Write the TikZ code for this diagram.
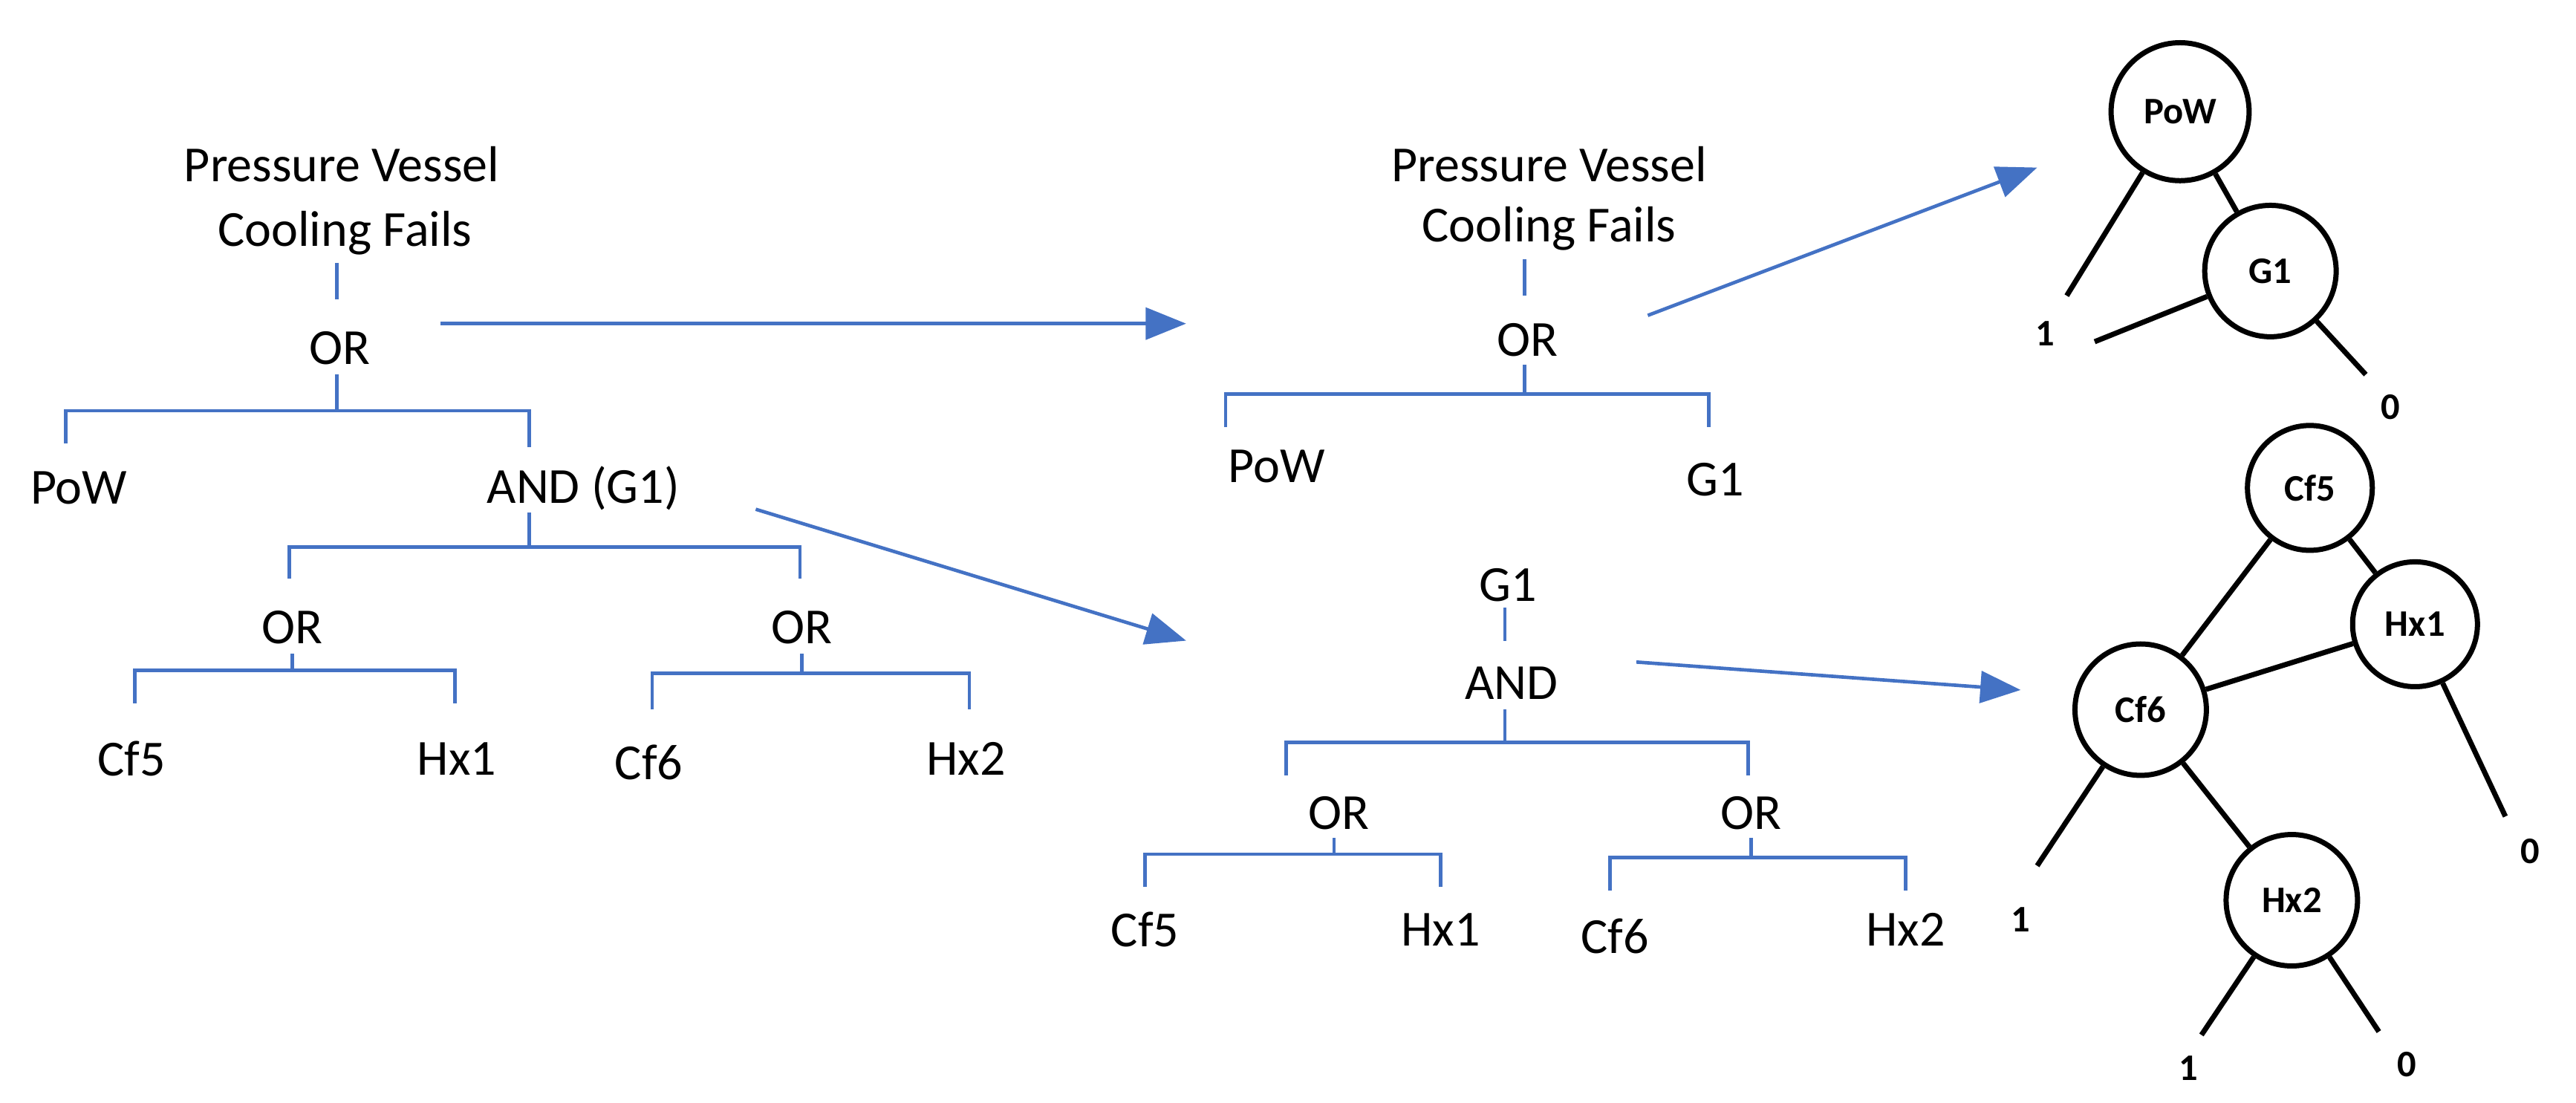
\documentclass[tikz,border=0pt]{standalone}
\usepackage{fontspec}
\setmainfont{Carlito}
\usetikzlibrary{arrows.meta}
\definecolor{bl}{RGB}{68,114,196}
\begin{document}
\begin{tikzpicture}[x=0.02cm,y=-0.02cm,
  t/.style={font=\fontsize{17.5}{20}\selectfont,inner sep=0pt},
  ln/.style={bl,line width=1.2pt},
  ar/.style={bl,line width=1.2pt,-{Triangle[length=14pt,width=11pt]}},
  c/.style={circle,draw,line width=1.8pt,minimum size={#1*0.02cm},font=\fontsize{13}{15}\selectfont\bfseries,inner sep=0pt},
  e/.style={line width=1.8pt},
  s/.style={font=\fontsize{13}{15}\selectfont\bfseries,inner sep=0pt}]
\useasboundingbox (0,0) rectangle (1568,671);
% left tree
\node[t] (a1) at (208,100) {Pressure Vessel};
\node[t] (a2) at (210,142) {Cooling Fails};
\node[t] (aor) at (207,212) {OR};
\draw[ln] (205,160) -- (205,182);
\draw[ln] (205,228) -- (205,250);
\draw[ln] (40,270) -- (40,250) -- (322,250) -- (322,272);
\node[t] (apow) at (48,297) {PoW};
\node[t] (aand) at (355,297) {AND (G1)};
\draw[ln] (322,312) -- (322,333);
\draw[ln] (176,352) -- (176,333) -- (487,333) -- (487,352);
\node[t] (aor1) at (178,382) {OR};
\node[t] (aor2) at (488,382) {OR};
\draw[ln] (178,398) -- (178,408);
\draw[ln] (82,428) -- (82,408) -- (277,408) -- (277,428);
\draw[ln] (488,398) -- (488,410);
\draw[ln] (397,432) -- (397,410) -- (590,410) -- (590,432);
\node[t] (acf5) at (80,462) {Cf5};
\node[t] (ahx1) at (278,462) {Hx1};
\node[t] (acf6) at (395,464) {Cf6};
\node[t] (ahx2) at (588,462) {Hx2};
% middle top
\node[t] (b1) at (943,100) {Pressure Vessel};
\node[t] (b2) at (943,139) {Cooling Fails};
\node[t] (bor) at (930,207) {OR};
\draw[ln] (928,158) -- (928,180);
\draw[ln] (928,222) -- (928,240);
\draw[ln] (746,260) -- (746,240) -- (1040,240) -- (1040,260);
\node[t] (bpow) at (777,284) {PoW};
\node[t] (bg1) at (1044,292) {G1};
% middle bottom
\node[t] (cg1) at (918,356) {G1};
\draw[ln] (916,370) -- (916,390);
\node[t] (cand) at (920,416) {AND};
\draw[ln] (916,432) -- (916,452);
\draw[ln] (783,472) -- (783,452) -- (1064,452) -- (1064,472);
\node[t] (cor1) at (815,495) {OR};
\node[t] (cor2) at (1066,495) {OR};
\draw[ln] (812,510) -- (812,520);
\draw[ln] (697,540) -- (697,520) -- (877,520) -- (877,540);
\draw[ln] (1066,510) -- (1066,522);
\draw[ln] (980,542) -- (980,522) -- (1160,522) -- (1160,542);
\node[t] (ccf5) at (697,566) {Cf5};
\node[t] (chx1) at (877,566) {Hx1};
\node[t] (ccf6) at (983,570) {Cf6};
\node[t] (chx2) at (1160,566) {Hx2};
% arrows
\coordinate (p1) at (268,197); \coordinate (q1) at (722,197);
\coordinate (p2) at (460,310); \coordinate (q2) at (722,390);
\coordinate (p3) at (1003,192); \coordinate (q3) at (1240,102);
\coordinate (p4) at (996,403); \coordinate (q4) at (1230,420);
\draw[ar] (p1) -- (q1);
\draw[ar] (p2) -- (q2);
\draw[ar] (p3) -- (q3);
\draw[ar] (p4) -- (q4);
% right top BDD
\node[c=84] (dpow) at (1327,68) {PoW};
\node[c=80] (dg1) at (1382,165) {G1};
\node[s] (d1) at (1245,203) {1};
\node[s] (d0) at (1455,248) {0};
\coordinate (d1a) at (1258,180);
\coordinate (d1b) at (1275,208);
\coordinate (d0a) at (1440,228);
\draw[e] (dpow) -- (dg1);
\draw[e] (dpow) -- (d1a);
\draw[e] (dg1) -- (d1b);
\draw[e] (dg1) -- (d0a);
% right bottom BDD
\node[c=76] (ecf5) at (1406,297) {Cf5};
\node[c=76] (ehx1) at (1470,380) {Hx1};
\node[c=80] (ecf6) at (1303,432) {Cf6};
\node[c=80] (ehx2) at (1395,548) {Hx2};
\draw[e] (ecf5) -- (ecf6);
\draw[e] (ecf5) -- (ehx1);
\draw[e] (ehx1) -- (ecf6);
\draw[e] (ecf6) -- (ehx2);
\coordinate (e1a) at (1240,527);
\coordinate (e0a) at (1525,497);
\coordinate (e1b) at (1340,630);
\coordinate (e0b) at (1448,628);
\draw[e] (ecf6) -- (e1a);
\draw[e] (ehx1) -- (e0a);
\draw[e] (ehx2) -- (e1b);
\draw[e] (ehx2) -- (e0b);
\node[s] (el1) at (1230,560) {1};
\node[s] (el0) at (1540,518) {0};
\node[s] (el2) at (1332,650) {1};
\node[s] (el3) at (1465,648) {0};
\end{tikzpicture}
\end{document}
